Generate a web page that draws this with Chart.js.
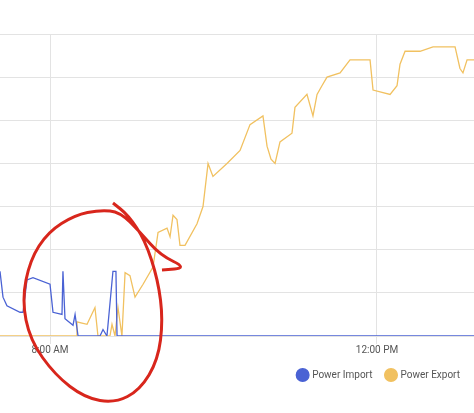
<!DOCTYPE html><html><head><style>html,body{margin:0;background:#fff}#w{width:474px;height:413px}</style>
<script src="https://cdn.jsdelivr.net/npm/chart.js@4/dist/chart.umd.min.js"></script></head><body><div id="w"><canvas id="c"></canvas></div>
<script>
const importX=[0,3,7,20,23,27,33,50,53,62,63,65,73,75,78,100,103,107,113,116,117,474];
const importV=[1.5,0.9,0.7,0.55,0.55,1.3,1.35,1.2,0.55,0.5,1.5,0.4,0.25,0.5,0,0,0.15,0,1.5,1.5,0,0];
const exportX=[0,76,77,82,87,95,98,110,112,115,118,122,125,130,135,143,153,158,167,170,173,177,180,185,197,203,208,213,227,240,250,263,267,271,275,280,292,295,307,313,317,322,327,340,350,360,370,373,390,397,400,405,420,433,455,460,463,467,474];
const exportV=[0,0,0.33,0.3,0.27,0.66,0,0,0.27,0,0.66,0,1.47,1.4,0.9,1.2,1.6,2.4,2.5,2.3,2.8,2.7,2.1,2.1,2.6,3.0,4.0,3.7,4.0,4.3,4.9,5.1,4.4,4.1,4.0,4.5,4.7,5.3,5.6,5.1,5.6,5.8,6.0,6.1,6.4,6.4,6.4,5.7,5.6,5.8,6.3,6.6,6.6,6.7,6.7,6.2,6.1,6.4,6.4];
const tickMinutes=[480,720];
const tickLabels=['8:00 AM','12:00 PM'];
const toMin=x=>Math.round((480+(x-50)*0.734)*10)/10;
const pts=(xs,vs)=>xs.map((x,i)=>({x:toMin(x),y:vs[i]}));
const circle=[[113,203],[128,215],[145,240],[158,280],[163,320],[158,360],[140,390],[115,403],[85,398],[55,375],[30,340],[22,300],[30,260],[48,232],[75,215],[100,210],[120,212],[140,232],[160,255],[187,268],[162,270]];
const redPlugin={id:'red',afterDraw(ch){const c=ch.ctx;c.save();c.strokeStyle='#d8261c';c.lineWidth=3;c.lineJoin='round';c.beginPath();circle.forEach((p,i)=>{if(i===0)c.moveTo(p[0],p[1]);else{const q=circle[i-1];c.quadraticCurveTo(q[0],q[1],(q[0]+p[0])/2,(q[1]+p[1])/2);}});const l=circle[circle.length-1];c.lineTo(l[0],l[1]);c.stroke();c.restore();}};
new Chart(document.getElementById('c'),{type:'line',data:{datasets:[
{label:'Power Import',data:pts(importX,importV),borderColor:'#4a62d4',backgroundColor:'#4a62d4',borderWidth:1.3,pointRadius:0,tension:0},
{label:'Power Export',data:pts(exportX,exportV),borderColor:'#f1c160',backgroundColor:'#f1c160',borderWidth:1.3,pointRadius:0,tension:0}]},
options:{responsive:true,maintainAspectRatio:false,animation:false,layout:{padding:{top:34,left:0,right:0,bottom:23}},
plugins:{tooltip:{enabled:false},legend:{position:'bottom',align:'end',labels:{usePointStyle:true,pointStyle:'circle',boxWidth:9,boxHeight:9,color:'#555',font:{family:'Roboto',size:10},padding:14}}},
scales:{x:{type:'linear',min:toMin(0),max:toMin(474),afterBuildTicks(a){a.ticks=tickMinutes.map(v=>({value:v}));},ticks:{padding:0,callback:(v)=>tickLabels[tickMinutes.indexOf(v)]||'',color:'#555',font:{family:'Roboto',size:10},maxRotation:0},grid:{color:'#e3e3e3'},border:{display:false}},
y:{min:0,max:7,ticks:{display:false,stepSize:1},grid:{color:'#e3e3e3',drawTicks:false},border:{display:false}}}},plugins:[redPlugin]});
</script></body></html>
